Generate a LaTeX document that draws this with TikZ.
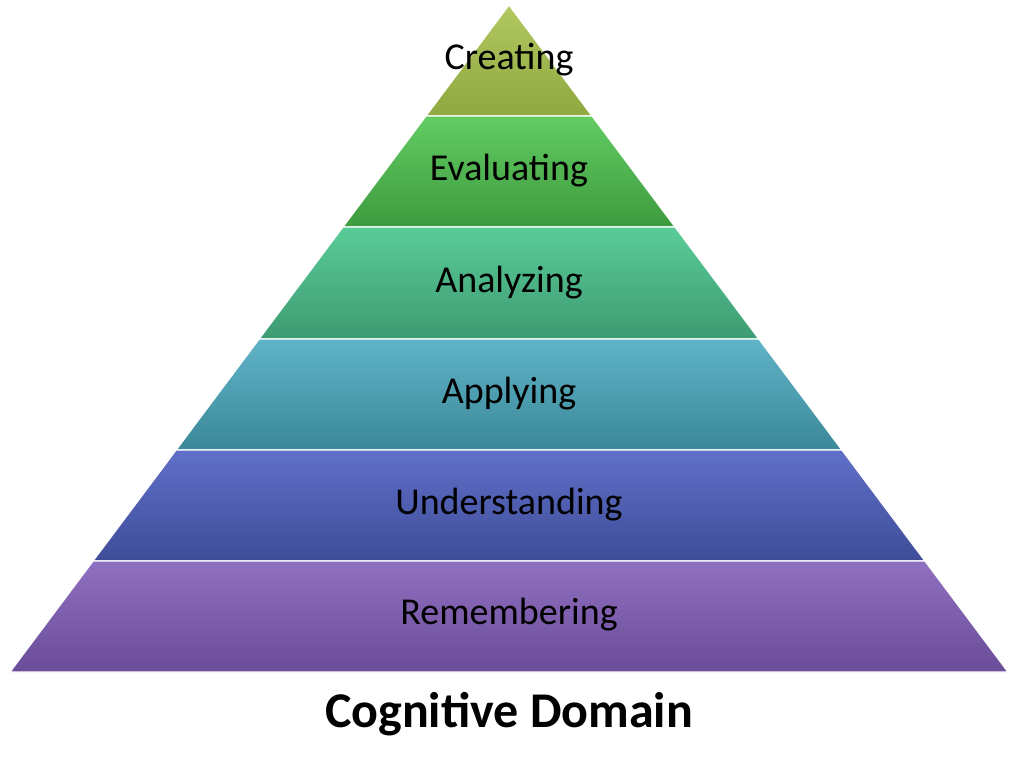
\documentclass[tikz,border=0pt]{standalone}
\usepackage{fontspec}
\setmainfont{Carlito}
\begin{document}
\begin{tikzpicture}[x=1pt,y=-1pt,
  lbl/.style={font=\fontsize{38}{40}\selectfont, text=black},
  band/.style={draw=white, line width=1.2pt}]
\useasboundingbox (0,0) rectangle (1018,781);
\def\ax{509}\def\ay{5}\def\k{0.7481}
% boundaries: 116,227,339,450,561,672
\foreach \ya/\yb/\ct/\cb/\nm/\txt in {
  5/116/B2C860/8FA840/l1/Creating,
  116/227/62CC62/3E9A3E/l2/Evaluating,
  227/339/5ACC98/3E9A72/l3/Analyzing,
  339/450/60B4C8/3A8898/l4/Applying,
  450/561/6070C8/3E4C98/l5/Understanding,
  561/672/9070C0/6A4C98/l6/Remembering}{
  \pgfmathsetmacro\wa{(\ya-\ay)*\k}
  \pgfmathsetmacro\wb{(\yb-\ay)*\k}
  \definecolor{ct}{HTML}{\ct}\definecolor{cb}{HTML}{\cb}
  \path[band, top color=ct, bottom color=cb]
    (\ax-\wa,\ya) -- (\ax+\wa,\ya) -- (\ax+\wb,\yb) -- (\ax-\wb,\yb) -- cycle;
}
\node[lbl] (c) at (509,60) {Creating};
\node[lbl] (e) at (509,171) {Evaluating};
\node[lbl] (a) at (509,283) {Analyzing};
\node[lbl] (p) at (509,394) {Applying};
\node[lbl] (u) at (509,505) {Understanding};
\node[lbl] (r) at (509,615) {Remembering};
\node[font=\fontsize{50}{52}\selectfont\bfseries] (t) at (509,714) {Cognitive Domain};
\end{tikzpicture}
\end{document}
